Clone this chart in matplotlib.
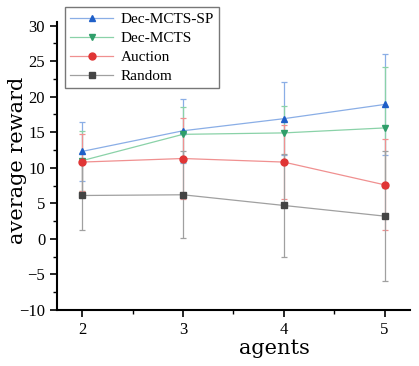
import numpy as np
import matplotlib
matplotlib.use('Agg')
import matplotlib.pyplot as plt
from matplotlib.ticker import MultipleLocator
from matplotlib.lines import Line2D

# data
agents = [2, 3, 4, 5]
sp_mean = [12.3, 15.2, 16.9, 18.9]
sp_err = [4.2, 4.5, 5.1, 7.1]
mcts_mean = [11.0, 14.7, 14.9, 15.6]
mcts_err = [4.2, 3.9, 3.8, 8.5]
auction_mean = [10.8, 11.3, 10.8, 7.6]
auction_err = [4.0, 5.7, 5.2, 6.4]
random_mean = [6.1, 6.2, 4.7, 3.2]
random_err = [4.9, 6.1, 7.2, 9.1]

series = [
    ('Dec-MCTS-SP', sp_mean, sp_err, '^', '#1f5fc8', '#8aaee6'),
    ('Dec-MCTS', mcts_mean, mcts_err, 'v', '#2f9e6a', '#8ad2a8'),
    ('Auction', auction_mean, auction_err, 'o', '#e03535', '#f09090'),
    ('Random', random_mean, random_err, 's', '#444444', '#a0a0a0'),
]

plt.rcParams['font.family'] = ['Liberation Serif', 'DejaVu Serif']

fig = plt.figure(figsize=(4.19, 3.66), dpi=100)
ax = fig.add_axes([0.136, 0.153, 0.842, 0.787])

handles = []
for name, mean, err, mk, mcol, lcol in series:
    ax.errorbar(agents, mean, yerr=err, color=lcol, ecolor=lcol, elinewidth=0.9,
                capsize=2.5, capthick=0.9, linewidth=0.9, marker=mk, markersize=5,
                markerfacecolor=mcol, markeredgecolor=mcol)
    handles.append(Line2D([], [], color=lcol, linewidth=0.9, marker=mk, markersize=5,
                          markerfacecolor=mcol, markeredgecolor=mcol, label=name))

ax.set_xlim(1.75, 5.25)
ax.set_ylim(-10, 30.5)
ax.set_xticks(agents)
ax.set_yticks(range(-10, 31, 5))
ax.xaxis.set_minor_locator(MultipleLocator(0.5))
ax.yaxis.set_minor_locator(MultipleLocator(2.5))
ax.tick_params(axis='both', which='major', labelsize=12, length=5, width=1.2, direction='out')
ax.tick_params(axis='both', which='minor', length=3, width=1.0, direction='out')
ax.set_yticklabels([f'{v}' if v >= 0 else f'\u2212{-v}' for v in range(-10, 31, 5)])

for s in ['top', 'right']:
    ax.spines[s].set_visible(False)
for s in ['left', 'bottom']:
    ax.spines[s].set_linewidth(1.5)

ax.set_xlabel('agents', fontsize=15, fontfamily='DejaVu Serif')
ax.xaxis.set_label_coords(0.615, -0.1)
ax.set_ylabel('average reward', fontsize=15, fontfamily='DejaVu Serif')
ax.yaxis.set_label_coords(-0.085, 0.52)

leg = ax.legend(handles=handles, loc='upper left', bbox_to_anchor=(0.155, 0.981),
                bbox_transform=fig.transFigure, borderaxespad=0,
                prop={'size': 11}, frameon=True, fancybox=False,
                edgecolor='#555555', handlelength=2.8, borderpad=0.35, labelspacing=0.35,
                handletextpad=0.5)
leg.get_frame().set_linewidth(1.0)

fig.savefig('out.png', dpi=100)
